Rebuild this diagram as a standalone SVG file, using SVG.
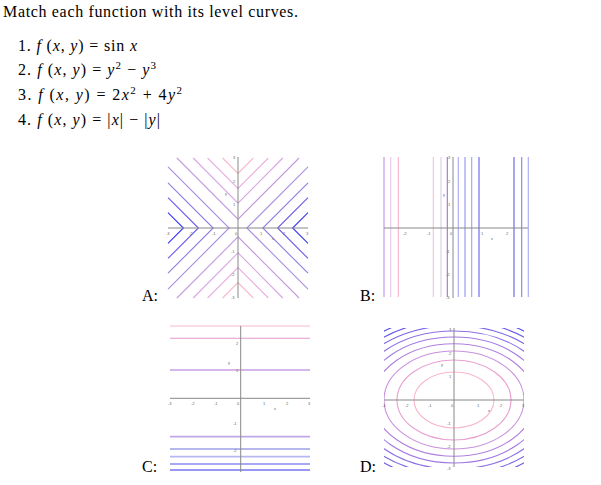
<svg xmlns="http://www.w3.org/2000/svg" width="601" height="485" viewBox="0 0 601 485">
<style>
.t,.t tspan{font-family:"Liberation Serif",serif;font-size:16px;fill:#000}
.t tspan.s{font-size:11px}
.t tspan.i{font-style:italic}
.ax{stroke:#888;stroke-width:1;fill:none}
.tk{font-family:"Liberation Sans",sans-serif;font-size:4px;fill:#666}
.c{fill:none;stroke-width:1.1}
</style>
<defs>
<clipPath id="cd"><rect x="384" y="328" width="140" height="139"/></clipPath>
</defs>
<g id="text" xml:space="preserve" font-family="Liberation Serif">
<text class="t" x="3" y="17" textLength="295" lengthAdjust="spacing">Match each function with its level curves.</text>
<text class="t" x="18" y="51" textLength="119" lengthAdjust="spacing">1.  <tspan class="i">f</tspan> (<tspan class="i">x</tspan>, <tspan class="i">y</tspan>) = sin <tspan class="i">x</tspan></text>
<text class="t" x="18" y="75" textLength="138" lengthAdjust="spacing">2.  <tspan class="i">f</tspan> (<tspan class="i">x</tspan>, <tspan class="i">y</tspan>) = <tspan class="i">y</tspan><tspan class="s" dy="-6">2</tspan><tspan dy="6"> − </tspan><tspan class="i">y</tspan><tspan class="s" dy="-6">3</tspan></text>
<text class="t" x="18" y="100" textLength="164" lengthAdjust="spacing">3.  <tspan class="i">f</tspan> (<tspan class="i">x</tspan>, <tspan class="i">y</tspan>) = 2<tspan class="i">x</tspan><tspan class="s" dy="-6">2</tspan><tspan dy="6"> + 4</tspan><tspan class="i">y</tspan><tspan class="s" dy="-6">2</tspan></text>
<text class="t" x="18" y="125" textLength="142" lengthAdjust="spacing">4.  <tspan class="i">f</tspan> (<tspan class="i">x</tspan>, <tspan class="i">y</tspan>) = |<tspan class="i">x</tspan>| − |<tspan class="i">y</tspan>|</text>
<text class="t" x="142" y="301">A:</text>
<text class="t" x="360" y="301">B:</text>
<text class="t" x="142" y="472">C:</text>
<text class="t" x="360" y="472">D:</text>
</g>
<g id="plotA">
<g class="c">
<polyline stroke="#3a3af0" points="168,212.6 183.4,228 168,243.4"/>
<polyline stroke="#3a3af0" points="308,212.6 292.6,228 308,243.4"/>
<polyline stroke="#6a5ae8" points="168,197.6 198.4,228 168,258.4"/>
<polyline stroke="#6a5ae8" points="308,197.6 277.6,228 308,258.4"/>
<polyline stroke="#8f7ae0" points="168,182.8 213.2,228 168,273.2"/>
<polyline stroke="#8f7ae0" points="308,182.8 262.8,228 308,273.2"/>
<polyline stroke="#a88ee0" points="168,166.9 229.1,228 168,289.1"/>
<polyline stroke="#a88ee0" points="308,166.9 246.9,228 308,289.1"/>
<polyline stroke="#c49ae0" points="176.9,158 238,219.1 299.1,158"/>
<polyline stroke="#c49ae0" points="176.9,298 238,236.9 299.1,298"/>
<polyline stroke="#d9a6e4" points="193.2,158 238,203.2 282.8,158"/>
<polyline stroke="#d9a6e4" points="193.2,298 238,252.8 282.8,298"/>
<polyline stroke="#eab0e0" points="207.6,158 238,188.4 268.4,158"/>
<polyline stroke="#eab0e0" points="207.6,298 238,267.6 268.4,298"/>
<polyline stroke="#f8b8cc" points="222.6,158 238,173.4 253.4,158"/>
<polyline stroke="#f8b8cc" points="222.6,298 238,282.6 253.4,298"/>
</g>
<line class="ax" x1="168" y1="228" x2="308" y2="228"/>
<line class="ax" x1="238" y1="157" x2="238" y2="298"/>
<text class="tk" x="166" y="235">-3</text><text class="tk" x="189" y="235">-2</text><text class="tk" x="212" y="235">-1</text><text class="tk" x="235" y="235">0</text><text class="tk" x="260" y="235">1</text><text class="tk" x="283" y="235">2</text><text class="tk" x="306" y="235">3</text>
<text class="tk" x="233" y="159">3</text><text class="tk" x="233" y="183">2</text><text class="tk" x="233" y="206">1</text><text class="tk" x="231" y="253">-1</text><text class="tk" x="231" y="276">-2</text><text class="tk" x="231" y="299">-3</text>
<text class="tk" x="225" y="195">y</text><text class="tk" x="272" y="240">x</text>
</g>
<g id="plotB">
<g class="c" stroke-width="1.4">
<line x1="384" y1="157" x2="384" y2="297" stroke="#c090e0"/>
<line x1="390.7" y1="157" x2="390.7" y2="297" stroke="#e8c8ec"/>
<line x1="398.3" y1="157" x2="398.3" y2="297" stroke="#f8b0c8"/>
<line x1="433.3" y1="157" x2="433.3" y2="297" stroke="#f8c0d0"/>
<line x1="441" y1="157" x2="441" y2="297" stroke="#e0c8ec"/>
<line x1="447.3" y1="157" x2="447.3" y2="297" stroke="#a070d8"/>
<line x1="458.3" y1="157" x2="458.3" y2="297" stroke="#a8a8f4"/>
<line x1="465" y1="157" x2="465" y2="297" stroke="#9090f0"/>
<line x1="471.7" y1="157" x2="471.7" y2="297" stroke="#a0a0f2"/>
<line x1="479" y1="157" x2="479" y2="297" stroke="#6060ec"/>
<line x1="514" y1="157" x2="514" y2="297" stroke="#6060ec"/>
<line x1="521.7" y1="157" x2="521.7" y2="297" stroke="#8080f0"/>
<line x1="528.3" y1="157" x2="528.3" y2="297" stroke="#a8a8f4"/>
</g>
<line class="ax" x1="384" y1="228" x2="528" y2="228"/>
<line class="ax" x1="453" y1="157" x2="453" y2="298"/>
<text class="tk" x="403" y="235">-2</text><text class="tk" x="427" y="235">-1</text><text class="tk" x="450" y="235">0</text><text class="tk" x="481" y="235">1</text><text class="tk" x="506" y="235">2</text>
<text class="tk" x="448" y="159">3</text><text class="tk" x="448" y="183">2</text><text class="tk" x="448" y="206">1</text><text class="tk" x="446" y="253">-1</text><text class="tk" x="446" y="276">-2</text><text class="tk" x="446" y="299">-3</text>
<text class="tk" x="443" y="196">y</text><text class="tk" x="491" y="240">x</text>
</g>
<g id="plotC">
<g class="c" stroke-width="1.2">
<line x1="170" y1="326" x2="310" y2="326" stroke="#f8b8cc"/>
<line x1="170" y1="338.3" x2="310" y2="338.3" stroke="#e098cc"/>
<line x1="170" y1="370" x2="310" y2="370" stroke="#b070d8"/>
<line x1="170" y1="436.7" x2="310" y2="436.7" stroke="#c0a8e8" stroke-width="1.8"/>
<line x1="170" y1="449" x2="310" y2="449" stroke="#7070e0"/>
<line x1="170" y1="456.7" x2="310" y2="456.7" stroke="#b8b8f0" stroke-width="1.8"/>
<line x1="170" y1="464" x2="310" y2="464" stroke="#5050ee"/>
<line x1="170" y1="470" x2="310" y2="470" stroke="#3030f0"/>
</g>
<line class="ax" x1="170" y1="398.3" x2="310" y2="398.3"/>
<line class="ax" x1="240.7" y1="326" x2="240.7" y2="472"/>
<text class="tk" x="168" y="405">-3</text><text class="tk" x="191" y="405">-2</text><text class="tk" x="214" y="405">-1</text><text class="tk" x="237" y="405">0</text><text class="tk" x="263" y="405">1</text><text class="tk" x="286" y="405">2</text><text class="tk" x="308" y="405">3</text>
<text class="tk" x="236" y="345">2</text><text class="tk" x="236" y="372">1</text><text class="tk" x="233" y="425">-1</text><text class="tk" x="233" y="452">-2</text>
<text class="tk" x="228" y="364">y</text><text class="tk" x="274" y="410">x</text>
</g>
<g id="plotD">
<g class="c" clip-path="url(#cd)">
<ellipse cx="454" cy="400" rx="40" ry="28" stroke="#f8b8cc"/>
<ellipse cx="454" cy="400" rx="57" ry="40" stroke="#e8a0d0"/>
<ellipse cx="454" cy="400" rx="70" ry="49" stroke="#c890dc"/>
<ellipse cx="454" cy="400" rx="81" ry="56.3" stroke="#b080dc"/>
<ellipse cx="454" cy="400" rx="90" ry="63" stroke="#a078e0"/>
<ellipse cx="454" cy="400" rx="99" ry="69" stroke="#8c70e4"/>
<ellipse cx="454" cy="400" rx="107" ry="74.5" stroke="#7a66e8"/>
<ellipse cx="454" cy="400" rx="114" ry="79.7" stroke="#6658ec"/>
<ellipse cx="454" cy="400" rx="121" ry="84.5" stroke="#5048f0"/>
<ellipse cx="454" cy="400" rx="128" ry="89" stroke="#4040f0"/>
</g>
<line class="ax" x1="384" y1="400" x2="524" y2="400"/>
<line class="ax" x1="454" y1="328" x2="454" y2="467"/>
<text class="tk" x="382" y="407">-3</text><text class="tk" x="405" y="407">-2</text><text class="tk" x="428" y="407">-1</text><text class="tk" x="451" y="407">0</text><text class="tk" x="477" y="407">1</text><text class="tk" x="500" y="407">2</text><text class="tk" x="522" y="407">3</text>
<text class="tk" x="449" y="331">3</text><text class="tk" x="449" y="355">2</text><text class="tk" x="449" y="378">1</text><text class="tk" x="447" y="425">-1</text><text class="tk" x="447" y="448">-2</text><text class="tk" x="447" y="470">-3</text>
<text class="tk" x="441" y="366">y</text><text class="tk" x="488" y="412">x</text>
</g>
</svg>
